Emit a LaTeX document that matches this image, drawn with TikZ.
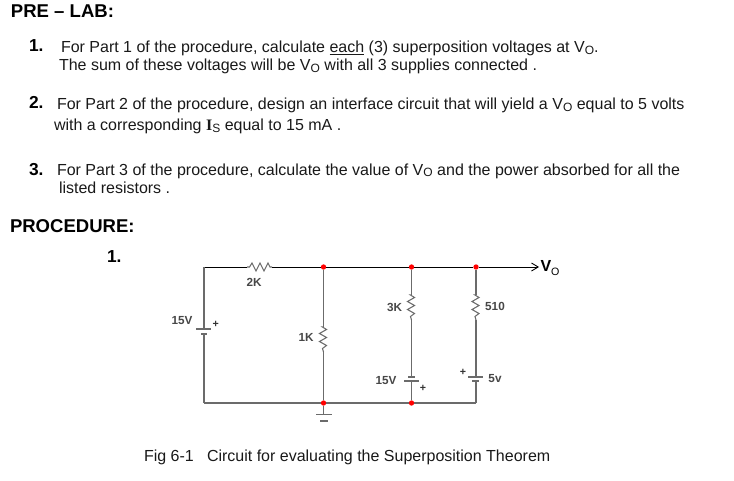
\documentclass[tikz,border=0pt]{standalone}
\usepackage{fontspec}
\setmainfont{Liberation Sans}
\newfontfamily\serifb{Liberation Serif}
\usetikzlibrary{arrows.meta}
\definecolor{wiregray}{gray}{0.42}
\definecolor{txt}{gray}{0.1}
\newcommand{\subO}[1]{\raisebox{-1.4pt}{\fontsize{9pt}{9pt}\selectfont #1}}
\tikzset{
  every node/.style={inner sep=0pt,outer sep=0pt,text=txt},
  body/.style={anchor=base west,font=\fontsize{12pt}{14pt}\selectfont},
  head/.style={anchor=base west,font=\fontsize{13.9pt}{16pt}\selectfont\bfseries,text=black},
  num/.style={anchor=base west,font=\fontsize{13pt}{15pt}\selectfont\bfseries,text=black},
  small/.style={anchor=base,font=\fontsize{8.8pt}{10pt}\selectfont\bfseries,text=black!72},
  wire/.style={draw=wiregray,line width=0.95pt},
  topwire/.style={draw=black,line width=0.65pt},
  res/.style={draw=wiregray,line width=0.8pt,line join=miter},
  plate/.style={draw=wiregray,line width=0.85pt},
  junction/.style={circle,fill=red,minimum size=4pt},
  plus/.style={anchor=center,font=\fontsize{8pt}{9pt}\selectfont\bfseries,text=black!80}
}
\begin{document}
\begin{tikzpicture}[x=0.75pt,y=-0.75pt]
\useasboundingbox (0,0) rectangle (734,481);
% text
\node[head] (t1) at (11,18) {PRE – LAB:};
\node[num] (n1) at (29,52) {1.};
\node[body] (a1) at (61,52.7) {For Part 1 of the procedure, calculate \underline{each} (3) superposition voltages at V\subO{O}.};
\node[body] (a2) at (59,71) {The sum of these voltages will be V\subO{O} with all 3 supplies connected .};
\node[num] (n2) at (29,109) {2.};
\node[body] (b1) at (57,109.7) {For Part 2 of the procedure, design an interface circuit that will yield a V\subO{O} equal to 5 volts};
\node[body] (b2) at (54,131) {with a corresponding {\serifb\bfseries I}\subO{S} equal to 15 mA .};
\node[num] (n3) at (29,175) {3.};
\node[body] (c1) at (57,175) {For Part 3 of the procedure, calculate the value of V\subO{O} and the power absorbed for all the};
\node[body] (c2) at (59,193) {listed resistors .};
\node[head] (t2) at (10,232) {PROCEDURE:};
\node[num] (n4) at (107,262) {1.};
\node[body] (f1) at (144,461) {Fig 6-1};
\node[body] (f2) at (207,461) {Circuit for evaluating the Superposition Theorem};
% circuit points
\coordinate (tl) at (204,267);
\coordinate (bl) at (204,403);
\coordinate (br) at (476,403);
\coordinate (out) at (539,267);
\node[junction] (j1) at (323.5,267) {};
\node[junction] (j2) at (411.5,267) {};
\node[junction] (j3) at (476,267) {};
\node[junction] (j4) at (323.5,403) {};
\node[junction] (j5) at (411.5,403) {};
% top wire and arrow
\draw[topwire] (tl) -- (247,267);
\draw[res] (247,267) -- ++(2.5,0) -- ++(2.5,-4) -- ++(4,8) -- ++(4,-8) -- ++(4,8) -- ++(4,-8) -- ++(2,4) -- (272,267);
\draw[topwire] (272,267) -- (j1) -- (j2) -- (j3);
\draw[topwire,-{Straight Barb[length=5pt,width=6pt]}] (j3) -- (out);
% left battery
\draw[wire] (tl) -- (204,329);
\draw[plate] (196,329) -- (211,329);
\draw[plate,line width=1.1pt] (201,334) -- (207,334);
\draw[wire] (204,334) -- (bl);
% bottom
\draw[wire] (bl) -- (j4) -- (j5) -- (br);
% 1K
\draw[wire] (j1) -- (323.5,327);
\draw[res] (323.5,327) -- ++(-1,0) -- ++(4,2.5) -- ++(-7,4) -- ++(7,4) -- ++(-7,4) -- ++(7,4) -- ++(-4,3) -- (323.5,352);
\draw[wire] (323.5,352) -- (j4);
% 3K
\draw[wire] (j2) -- (411.5,295);
\draw[res] (411.5,295) -- ++(-1,0) -- ++(4,2.5) -- ++(-7,4) -- ++(7,4) -- ++(-7,4) -- ++(7,4) -- ++(-4,3) -- (411.5,320);
\draw[wire] (411.5,320) -- (411.5,377);
\draw[plate,line width=1.1pt] (408,377) -- (415,377);
\draw[plate] (404,381) -- (419,381);
\draw[wire] (411.5,381) -- (j5);
% 510
\draw[wire] (j3) -- (476,295);
\draw[res] (476,295) -- ++(-1,0) -- ++(4,2.5) -- ++(-7,4) -- ++(7,4) -- ++(-7,4) -- ++(7,4) -- ++(-4,3) -- (476,320);
\draw[wire] (476,320) -- (476,377);
\draw[plate] (468,377) -- (483,377);
\draw[plate,line width=1.1pt] (472,381) -- (479,381);
\draw[wire] (476,381) -- (br);
% ground
\draw[wire] (j4) -- (323.5,414);
\draw[plate] (316,414.5) -- (332,414.5);
\draw[plate,line width=1.1pt] (320,421) -- (328,421);
% labels
\node[small] (l1) at (254,286) {2K};
\node[small] (l2) at (182,324) {15V};
\node[small] (l3) at (306,341) {1K};
\node[small] (l4) at (394.5,311) {3K};
\node[small] (l5) at (495,310) {510};
\node[small] (l6) at (386,384) {15V};
\node[small] (l7) at (495,382) {5v};
\node[plus] (p1) at (215.7,324) {+};
\node[plus] (p2) at (423,388) {+};
\node[plus] (p3) at (463,372) {+};
\node[anchor=base west,font=\fontsize{12pt}{14pt}\selectfont\bfseries,text=black] (vo) at (540.5,271) {V};
\node[anchor=base west,font=\fontsize{8pt}{9pt}\selectfont,text=black] (vs) at (551,275) {O};
\end{tikzpicture}
\end{document}
